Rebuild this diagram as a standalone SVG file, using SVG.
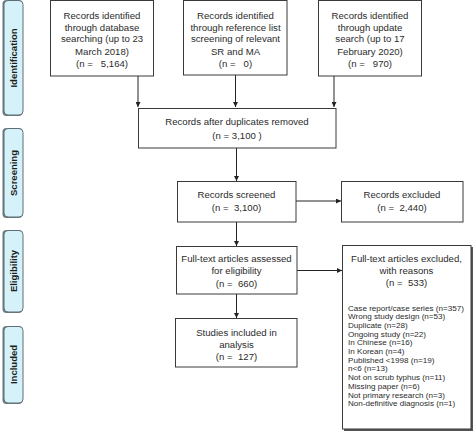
<svg xmlns="http://www.w3.org/2000/svg" width="474" height="440" viewBox="0 0 474 440">
<defs>
<style>
.box{fill:#fff;stroke:#3a3a3a;stroke-width:1}
.side{fill:#d5f2fa;stroke:#5f6e73;stroke-width:1}
.sideSh{fill:#6d7a7e}
.t{font-family:"Liberation Sans",Arial,sans-serif;font-size:9.6px;fill:#2b2b2b;text-anchor:middle;white-space:pre}
.l{font-family:"Liberation Sans",Arial,sans-serif;font-size:8.1px;fill:#2b2b2b;white-space:pre}
.s{font-family:"Liberation Sans",Arial,sans-serif;font-size:9.5px;font-weight:bold;fill:#1e1e1e;text-anchor:middle}
.c{stroke:#222;stroke-width:1;fill:none}
</style>
<marker id="ah" viewBox="0 0 10 10" refX="10" refY="5" markerWidth="5" markerHeight="5" orient="auto" markerUnits="userSpaceOnUse">
<path d="M0,0 L10,5 L0,10 z" fill="#222"/>
</marker>
</defs>
<rect width="474" height="440" fill="#fff"/>

<g id="side-identification">
<rect class="sideSh" x="2.5" y="0" width="20" height="116" rx="4"/>
<rect class="side" x="4" y="0.5" width="19" height="114.5" rx="4"/>
<text class="s" transform="translate(16.5,58) rotate(-90)">Identification</text>
</g>
<g id="side-screening">
<rect class="sideSh" x="2.5" y="128" width="20" height="90" rx="4"/>
<rect class="side" x="4" y="128.5" width="19" height="88.5" rx="4"/>
<text class="s" transform="translate(16.5,173) rotate(-90)">Screening</text>
</g>
<g id="side-eligibility">
<rect class="sideSh" x="2.5" y="230" width="20" height="83" rx="4"/>
<rect class="side" x="4" y="230.5" width="19" height="81.5" rx="4"/>
<text class="s" transform="translate(16.5,271) rotate(-90)">Eligibility</text>
</g>
<g id="side-included">
<rect class="sideSh" x="2.5" y="326" width="20" height="78" rx="4"/>
<rect class="side" x="4" y="326.5" width="19" height="76.5" rx="4"/>
<text class="s" transform="translate(16.5,364.5) rotate(-90)">Included</text>
</g>

<g id="connectors">
<line class="c" x1="138" y1="76" x2="138" y2="107" marker-end="url(#ah)"/>
<line class="c" x1="235.5" y1="75" x2="235.5" y2="107" marker-end="url(#ah)"/>
<line class="c" x1="334" y1="76" x2="334" y2="107" marker-end="url(#ah)"/>
<line class="c" x1="236.5" y1="148" x2="236.5" y2="181" marker-end="url(#ah)"/>
<line class="c" x1="296" y1="201" x2="341" y2="201" marker-end="url(#ah)"/>
<line class="c" x1="236.5" y1="222" x2="236.5" y2="246" marker-end="url(#ah)"/>
<line class="c" x1="297" y1="270.5" x2="342" y2="270.5" marker-end="url(#ah)"/>
<line class="c" x1="236.5" y1="294" x2="236.5" y2="318" marker-end="url(#ah)"/>
</g>

<g id="db-search">
<rect class="box" x="50.5" y="0.5" width="103" height="75.5"/>
<text class="t" x="102" y="18.5">Records identified</text>
<text class="t" x="102" y="30.5">through database</text>
<text class="t" x="102" y="42">searching (up to 23</text>
<text class="t" x="102" y="54.5">March 2018)</text>
<text class="t" x="102" y="66.5">(n =   5,164)</text>
</g>
<g id="ref-list">
<rect class="box" x="183.5" y="0.5" width="103.5" height="74.5"/>
<text class="t" x="235.5" y="18.5">Records identified</text>
<text class="t" x="235.5" y="30.5">through reference list</text>
<text class="t" x="235.5" y="42">screening of relevant</text>
<text class="t" x="235.5" y="54.5">SR and MA</text>
<text class="t" x="235.5" y="66.5">(n =   0)</text>
</g>
<g id="update-search">
<rect class="box" x="318.5" y="0.5" width="103" height="75.5"/>
<text class="t" x="370" y="18.5">Records identified</text>
<text class="t" x="370" y="30.5">through update</text>
<text class="t" x="370" y="42">search (up to 17</text>
<text class="t" x="370" y="54.5">February 2020)</text>
<text class="t" x="370" y="66.5">(n =   970)</text>
</g>
<g id="after-duplicates">
<rect class="box" x="138.5" y="108.5" width="197.5" height="39.5"/>
<text class="t" x="237" y="125">Records after duplicates removed</text>
<text class="t" x="237" y="138.5">(n = 3,100 )</text>
</g>
<g id="screened">
<rect class="box" x="177.5" y="181.5" width="118.5" height="40.5"/>
<text class="t" x="236.5" y="197.5">Records screened</text>
<text class="t" x="236.5" y="210.5">(n =  3,100)</text>
</g>
<g id="excluded">
<rect class="box" x="341.5" y="181.5" width="121.5" height="40.5"/>
<text class="t" x="402" y="197.5">Records excluded</text>
<text class="t" x="402" y="210.5">(n =  2,440)</text>
</g>
<g id="fulltext">
<rect class="box" x="176.5" y="246.5" width="120.5" height="47.5"/>
<text class="t" x="236.5" y="261.5">Full-text articles assessed</text>
<text class="t" x="236.5" y="274">for eligibility</text>
<text class="t" x="236.5" y="286.5">(n =  660)</text>
</g>
<g id="fulltext-excluded">
<rect x="344" y="247" width="129" height="184" fill="#555"/>
<rect class="box" x="342.5" y="245.5" width="128.5" height="183.5"/>
<text class="t" x="406.5" y="262">Full-text articles excluded,</text>
<text class="t" x="406.5" y="274">with reasons</text>
<text class="t" x="406.5" y="285.5">(n =  533)</text>
<text class="l" x="348" y="310.5">Case report/case series (n=357)</text>
<text class="l" x="348" y="319.2">Wrong study design (n=53)</text>
<text class="l" x="348" y="327.9">Duplicate (n=28)</text>
<text class="l" x="348" y="336.6">Ongoing study (n=22)</text>
<text class="l" x="348" y="345.3">In Chinese (n=16)</text>
<text class="l" x="348" y="354">In Korean (n=4)</text>
<text class="l" x="348" y="362.7">Published &lt;1998 (n=19)</text>
<text class="l" x="348" y="371.4">n&lt;6 (n=13)</text>
<text class="l" x="348" y="380.1">Not on scrub typhus (n=11)</text>
<text class="l" x="348" y="388.8">Missing paper (n=6)</text>
<text class="l" x="348" y="397.5">Not primary research (n=3)</text>
<text class="l" x="348" y="406.2">Non-definitive diagnosis (n=1)</text>
</g>
<g id="included">
<rect class="box" x="175.5" y="318.5" width="121.5" height="48.5"/>
<text class="t" x="236.5" y="335.5">Studies included in</text>
<text class="t" x="236.5" y="347.5">analysis</text>
<text class="t" x="236.5" y="359.5">(n =  127)</text>
</g>
</svg>
